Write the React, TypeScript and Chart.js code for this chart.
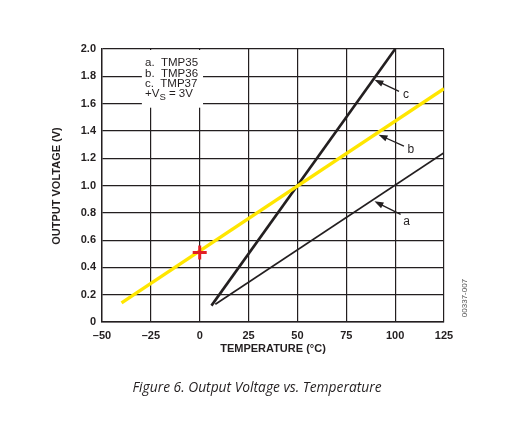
import { useEffect, useRef } from "react";
import { Chart, registerables } from "chart.js";

Chart.register(...registerables);

// values (temperature in °C, output in V)
const tmp35Temp = [8, 125];
const tmp35Volt = [0.13, 1.24];
const tmp36Temp = [-40, 125];
const tmp36Volt = [0.14, 1.71];
const tmp37Temp = [6, 100];
const tmp37Volt = [0.12, 2.0];
const markTemp = [0];
const markVolt = [0.51];

const legendLines = ["a.  TMP35", "b.  TMP36", "c.  TMP37"];

// callout arrows: tip sits on the curve, tail points at the letter
const callouts = [
  { label: "c", tip: [89.4, 1.775], tail: [102, 1.69], text: [105.6, 1.665] },
  { label: "b", tip: [91.5, 1.372], tail: [104.5, 1.288], text: [108, 1.262] },
  { label: "a", tip: [89.4, 0.884], tail: [102.8, 0.788], text: [105.8, 0.732] },
];

const INK = "#231f20";
const FONT = "'Liberation Sans', Arial, sans-serif";

const toPoints = (xs: number[], ys: number[]) => xs.map((x, i) => ({ x, y: ys[i] }));

const overlay = {
  id: "overlay",
  beforeDatasetsDraw(chart: any) {
    const { ctx, scales } = chart;
    const { x, y } = scales;
    // white patch behind the legend text
    const l = x.getPixelForValue(-29.6);
    const r = x.getPixelForValue(1.7);
    const t = y.getPixelForValue(2.0) + 1;
    const b = y.getPixelForValue(1.57);
    ctx.save();
    ctx.fillStyle = "#fff";
    ctx.fillRect(l, t, r - l, b - t);
    ctx.restore();
  },
  afterDatasetsDraw(chart: any) {
    const { ctx, scales, chartArea } = chart;
    const { x, y } = scales;
    ctx.save();

    // callouts
    callouts.forEach((c) => {
      const tx = x.getPixelForValue(c.tip[0]);
      const ty = y.getPixelForValue(c.tip[1]);
      const sx = x.getPixelForValue(c.tail[0]);
      const sy = y.getPixelForValue(c.tail[1]);
      const ang = Math.atan2(ty - sy, tx - sx);
      ctx.strokeStyle = INK;
      ctx.fillStyle = INK;
      ctx.lineWidth = 1.3;
      ctx.beginPath();
      ctx.moveTo(sx, sy);
      ctx.lineTo(tx - Math.cos(ang) * 5, ty - Math.sin(ang) * 5);
      ctx.stroke();
      ctx.beginPath();
      ctx.moveTo(tx, ty);
      ctx.lineTo(tx - Math.cos(ang) * 9 + Math.sin(ang) * 3.2, ty - Math.sin(ang) * 9 - Math.cos(ang) * 3.2);
      ctx.lineTo(tx - Math.cos(ang) * 9 - Math.sin(ang) * 3.2, ty - Math.sin(ang) * 9 + Math.cos(ang) * 3.2);
      ctx.closePath();
      ctx.fill();
      ctx.font = `12px ${FONT}`;
      ctx.textAlign = "center";
      ctx.textBaseline = "middle";
      ctx.fillText(c.label, x.getPixelForValue(c.text[0]), y.getPixelForValue(c.text[1]));
    });

    // legend text
    const lx = chartArea.left + 43;
    ctx.fillStyle = INK;
    ctx.font = `11.5px ${FONT}`;
    ctx.textAlign = "left";
    ctx.textBaseline = "middle";
    legendLines.forEach((s, i) => ctx.fillText(s, lx, chartArea.top + 14 + i * 10.5));
    const ly = chartArea.top + 45;
    ctx.fillText("+V", lx, ly);
    let w = ctx.measureText("+V").width;
    ctx.font = `9.5px ${FONT}`;
    ctx.fillText("S", lx + w, ly + 3);
    w += ctx.measureText("S").width;
    ctx.font = `11.5px ${FONT}`;
    ctx.fillText(" = 3V", lx + w, ly);

    // axis titles
    ctx.font = `bold 11px ${FONT}`;
    ctx.textAlign = "center";
    ctx.fillText("TEMPERATURE (°C)", (chartArea.left + chartArea.right) / 2, 349);
    ctx.save();
    ctx.translate(57, 186);
    ctx.rotate(-Math.PI / 2);
    ctx.fillText("OUTPUT VOLTAGE (V)", 0, 0);
    ctx.restore();

    // side reference number
    ctx.save();
    ctx.translate(465, 298);
    ctx.rotate(-Math.PI / 2);
    ctx.fillStyle = "#555";
    ctx.font = `8px ${FONT}`;
    ctx.fillText("00337-007", 0, 0);
    ctx.restore();

    // caption
    ctx.save();
    ctx.font = `italic 14px 'Open Sans', sans-serif`;
    const cap = "Figure 6. Output Voltage vs. Temperature";
    const cw = ctx.measureText(cap).width;
    ctx.translate(257, 388);
    ctx.scale(249 / cw, 1);
    ctx.fillStyle = INK;
    ctx.fillText(cap, 0, 0);
    ctx.restore();

    ctx.restore();
  },
};

export default function App() {
  const canvasRef = useRef<HTMLCanvasElement | null>(null);

  useEffect(() => {
    if (!canvasRef.current) return;
    const chart = new Chart(canvasRef.current, {
      type: "scatter",
      data: {
        datasets: [
          {
            label: "TMP35",
            data: toPoints(tmp35Temp, tmp35Volt),
            showLine: true,
            borderColor: INK,
            borderWidth: 1.6,
            pointRadius: 0,
            order: 3,
          },
          {
            label: "TMP37",
            data: toPoints(tmp37Temp, tmp37Volt),
            showLine: true,
            borderColor: INK,
            borderWidth: 2.6,
            pointRadius: 0,
            order: 2,
          },
          {
            label: "TMP36",
            data: toPoints(tmp36Temp, tmp36Volt),
            showLine: true,
            borderColor: "#ffe600",
            borderWidth: 3.4,
            pointRadius: 0,
            order: 1,
          },
          {
            label: "marker",
            data: toPoints(markTemp, markVolt),
            pointStyle: "cross",
            pointRadius: 7,
            pointBorderWidth: 3,
            pointBorderColor: "#e31e24",
            showLine: false,
            order: 0,
          },
        ],
      },
      options: {
        animation: false,
        responsive: false,
        devicePixelRatio: window.devicePixelRatio,
        layout: { padding: { left: 2, top: 49, right: 67, bottom: 90 } },
        plugins: { legend: { display: false }, tooltip: { enabled: false } },
        scales: {
          x: {
            type: "linear",
            min: -50,
            max: 125,
            afterFit: (s: any) => {
              s.height = 20;
            },
            ticks: {
              stepSize: 25,
              padding: 7,
              color: INK,
              font: { family: FONT, size: 11, weight: "bold" },
              callback: (v: any) => (v < 0 ? "\u2013" + Math.abs(v) : String(v)),
            },
            grid: { color: INK, lineWidth: 1.2, drawTicks: false },
            border: { color: INK, width: 1.4 },
          },
          y: {
            type: "linear",
            min: 0,
            max: 2,
            afterFit: (s: any) => {
              s.width = 100;
            },
            ticks: {
              stepSize: 0.2,
              padding: 6,
              color: INK,
              font: { family: FONT, size: 11, weight: "bold" },
              callback: (v: any) => (v === 0 ? "0" : Number(v).toFixed(1)),
            },
            grid: { color: INK, lineWidth: 1.2, drawTicks: false },
            border: { color: INK, width: 1.4 },
          },
        },
      },
      plugins: [overlay],
    });
    return () => chart.destroy();
  }, []);

  return (
    <div style={{ position: "absolute", left: 0, top: 0, width: 511, height: 432, background: "#fff" }}>
      <canvas ref={canvasRef} width={511} height={432} style={{ width: 511, height: 432 }} />
    </div>
  );
}
